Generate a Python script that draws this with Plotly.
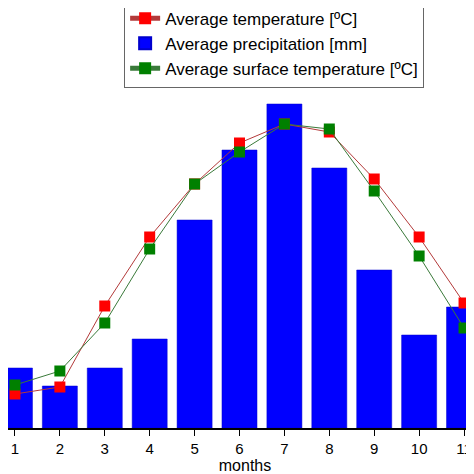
import plotly.graph_objects as go

# values (axis units, bottom of plot = 0)
months = [1, 2, 3, 4, 5, 6, 7, 8, 9, 10, 11, 12]
precip = [60, 42, 60, 89, 208, 278, 324, 260, 158, 93, 121, 0]
temp = [34, 41, 122, 191, 244, 285, 304, 296, 249, 191, 125, 70]
surf_temp = [43, 57, 105, 179, 244, 276, 304, 299, 237, 172, 100, 55]

fig = go.Figure()
fig.add_trace(go.Scatter(
    x=months, y=temp, name="Average temperature [ºC]", mode="lines+markers",
    line=dict(color="#b33a3a", width=1), marker=dict(symbol="square", size=11, color="#ff0000"),
    legendrank=1,
))
fig.add_trace(go.Bar(
    x=months, y=precip, name="Average precipitation [mm]",
    marker=dict(color="#0000ff", line=dict(color="#0000cc", width=0.5)), width=0.78,
    legendrank=2,
))
fig.add_trace(go.Scatter(
    x=months, y=surf_temp, name="Average surface temperature [ºC]", mode="lines+markers",
    line=dict(color="#3a7a3a", width=1), marker=dict(symbol="square", size=11, color="#008000"),
    legendrank=3,
))
fig.data = (fig.data[1], fig.data[0], fig.data[2])

fig.update_layout(
    width=474, height=474,
    margin=dict(l=0, r=0, t=0, b=54, autoexpand=False),
    plot_bgcolor="white", paper_bgcolor="white",
    font=dict(family="Liberation Sans, Arial", size=15, color="black"),
    showlegend=True,
    legend=dict(
        x=0.245, y=1.02, xanchor="left", yanchor="top",
        bordercolor="#666", borderwidth=1, bgcolor="white",
        traceorder="normal", itemsizing="constant", tracegroupgap=0,
        font=dict(size=17),
    ),
)
fig.update_xaxes(
    range=[0.845, 11.4], tickvals=months[:11], showgrid=False, automargin=False,
    showline=True, linecolor="black", linewidth=1.5,
    ticks="outside", ticklen=6, tickcolor="black",
    title=dict(text="months", standoff=4, font=dict(size=16)), tickfont=dict(size=15),
)
fig.update_yaxes(range=[0, 420], visible=False, automargin=False)

fig.write_html("out.html")
